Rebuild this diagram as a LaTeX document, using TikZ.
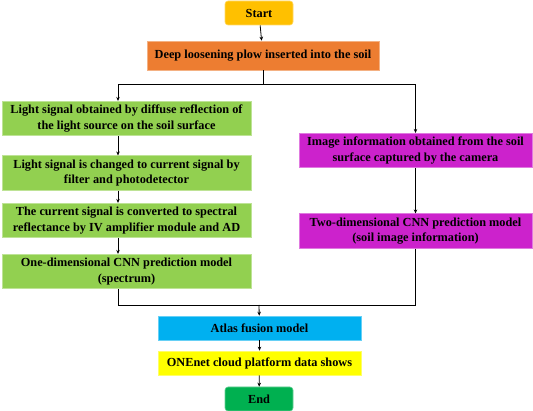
\documentclass[tikz,border=0pt]{standalone}
\usepackage{fontspec}
\setmainfont{Liberation Serif}
\usepackage{tikz}
\usetikzlibrary{arrows.meta, positioning, calc}

\definecolor{startcol}{HTML}{FFC000}
\definecolor{plowcol}{HTML}{ED7D31}
\definecolor{specol}{HTML}{92D050}
\definecolor{imgcol}{HTML}{CC22CC}
\definecolor{fusecol}{HTML}{00B0F0}
\definecolor{showcol}{HTML}{FFFF00}
\definecolor{endcol}{HTML}{00B050}

\begin{document}
\begin{tikzpicture}[
        x=1pt, y=-1pt,
        >={Stealth[length=4pt, width=3.5pt]},
        box/.style={inner sep=1pt, align=center, font=\fontsize{12.3}{15.2}\selectfont\bfseries, line width=0.6pt},
        terminal/.style={box, rounded corners=3pt, minimum width=68pt, minimum height=24pt},
        wide/.style={box, minimum width=249pt, minimum height=34.5pt},
        side/.style={box, minimum width=233pt, minimum height=34.5pt},
        mid/.style={box, minimum width=203pt, minimum height=24pt},
        link/.style={->, thick, black}
        ]
        \useasboundingbox (0,0) rectangle (533,411);

        % Top of the chart
        \node[terminal, fill=startcol, draw=startcol!60!white] (start) at (259,13) {Start};
        \node[box, fill=plowcol, draw=plowcol!60!white, minimum width=232pt, minimum height=29pt] (plow) at (263,55.5) {Deep loosening plow inserted into the soil};

        % Spectrum branch
        \node[wide, fill=specol, draw=specol!60!white] (light) at (126.5,118.5) {Light signal obtained by diffuse reflection of\\the light source on the soil surface};
        \node[wide, fill=specol, draw=specol!60!white] (filter) at (126.5,173) {Light signal is changed to current signal by\\filter and photodetector};
        \node[wide, fill=specol, draw=specol!60!white] (refl) at (126.5,220.5) {The current signal is converted to spectral\\reflectance by IV amplifier module and AD};
        \node[wide, fill=specol, draw=specol!60!white] (onecnn) at (126.5,271.5) {One-dimensional CNN prediction model\\(spectrum)};

        % Image branch
        \node[side, fill=imgcol, draw=imgcol!60!white] (image) at (415.5,150.5) {Image information obtained from the soil\\surface captured by the camera};
        \node[side, fill=imgcol, draw=imgcol!60!white] (twocnn) at (415.5,231) {Two-dimensional CNN prediction model\\(soil image information)};

        % Bottom of the chart
        \node[mid, fill=fusecol, draw=fusecol!60!white] (atlas) at (259.5,328) {Atlas fusion model};
        \node[mid, fill=showcol, draw=showcol!60!white] (onenet) at (259.5,363) {ONEnet cloud platform data shows};
        \node[terminal, fill=endcol, draw=endcol!60!white] (end) at (259,399) {End};

        % Connectors
        \coordinate (split) at (263,84);
        \coordinate (join) at (259,305);
        \draw[link] (start) -- (plow);
        \draw[thick] (plow) -- (split);
        \draw[link] (split) -| ([xshift=-8.5pt]light.north);
        \draw[link] (split) -| (image.north);
        \draw[link] ([xshift=-8.5pt]light.south) -- ([xshift=-8.5pt]filter.north);
        \draw[link] ([xshift=-8.5pt]filter.south) -- ([xshift=-8.5pt]refl.north);
        \draw[link] ([xshift=-8.5pt]refl.south) -- ([xshift=-8.5pt]onecnn.north);
        \draw[link] (image) -- (twocnn);
        \draw[thick] ([xshift=-8.5pt]onecnn.south) |- (join);
        \draw[thick] (twocnn.south) |- (join);
        \draw[link] (join) -- (atlas);
        \draw[link] (atlas) -- (onenet);
        \draw[link] (onenet) -- (end);
    \end{tikzpicture}
\end{document}
